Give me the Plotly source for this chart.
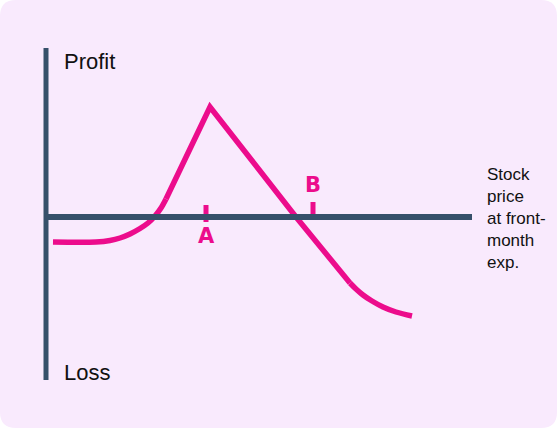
import plotly.graph_objects as go

# ---- data (x = stock price, y = profit; arbitrary units) ----
# smooth low region left of A
left_price  = [53, 96, 110, 120, 130, 140, 148, 155, 161, 166]
left_profit = [-25, -25, -23.5, -21, -17, -11.5, -6, 1, 9, 18]
# straight legs through the peak
mid_price   = [166, 210, 296, 350]
mid_profit  = [18, 110, 0, -66]
# smooth tail on the right
right_price  = [350, 356, 363, 372, 383, 396, 412]
right_profit = [-66, -72, -78, -84, -90, -95, -99]

strike_labels = ["A", "B"]
strike_price = [206, 313]
strike_tick_low = [-5, -2]
strike_tick_high = [12, 15]
strike_label_y = [-18.5, 32]

W, H = 557, 428
Y0 = 217
BG = "#F9EAFD"
MAG = "#EC0C8C"
AXC = "#36506A"

fig = go.Figure()

# background rounded rectangle
r = 16
x1, x2 = 0, W
yt, yb = Y0, Y0 - H
path = (f"M {x1+r},{yt} L {x2-r},{yt} Q {x2},{yt} {x2},{yt-r} "
        f"L {x2},{yb+r} Q {x2},{yb} {x2-r},{yb} L {x1+r},{yb} "
        f"Q {x1},{yb} {x1},{yb+r} L {x1},{yt-r} Q {x1},{yt} {x1+r},{yt} Z")
fig.add_shape(type="path", path=path, fillcolor=BG, line=dict(width=0), layer="below")

# axes lines
fig.add_shape(type="line", x0=46, x1=46, y0=Y0 - 48, y1=Y0 - 380, line=dict(color=AXC, width=5))
fig.add_shape(type="line", x0=46, x1=472, y0=0, y1=0, line=dict(color=AXC, width=6))

# payoff curve
for xs, ys, shp in [(left_price, left_profit, "spline"), (mid_price, mid_profit, "linear"),
                    (right_price, right_profit, "spline")]:
    fig.add_trace(go.Scatter(x=xs, y=ys, mode="lines",
                             line=dict(color=MAG, width=5.5, shape=shp), hoverinfo="skip"))

# strike ticks
tx, ty = [], []
for p, lo, hi in zip(strike_price, strike_tick_low, strike_tick_high):
    tx += [p, p, None]
    ty += [lo, hi, None]
fig.add_trace(go.Scatter(x=tx, y=ty, mode="lines", line=dict(color=MAG, width=5), hoverinfo="skip"))

for lab, p, ly in zip(strike_labels, strike_price, strike_label_y):
    fig.add_annotation(x=p, y=ly, text=f"<b>{lab}</b>", showarrow=False,
                       font=dict(family="DejaVu Sans", size=21, color=MAG))

txt_font = dict(family="Liberation Sans, Arial", color="#111111")
fig.add_annotation(x=62, y=156, text="Profit", showarrow=False, xanchor="left", yanchor="middle",
                   font=dict(size=22, **txt_font))
fig.add_annotation(x=62, y=-155, text="Loss", showarrow=False, xanchor="left", yanchor="middle",
                   font=dict(size=22, **txt_font))
fig.add_annotation(x=485, y=-1, text="Stock<br>price<br>at front-<br>month<br>exp.", showarrow=False,
                   xanchor="left", yanchor="middle", align="left",
                   font=dict(size=17, **txt_font))

fig.update_layout(
    width=W, height=H,
    margin=dict(l=0, r=0, t=0, b=0),
    paper_bgcolor="white", plot_bgcolor="rgba(0,0,0,0)",
    showlegend=False,
    xaxis=dict(range=[0, W], visible=False, fixedrange=True),
    yaxis=dict(range=[Y0 - H, Y0], visible=False, fixedrange=True),
)

fig.write_html("out.html", config={"displayModeBar": False},
               post_script="document.body.style.margin='0';document.body.style.overflow='hidden';")
